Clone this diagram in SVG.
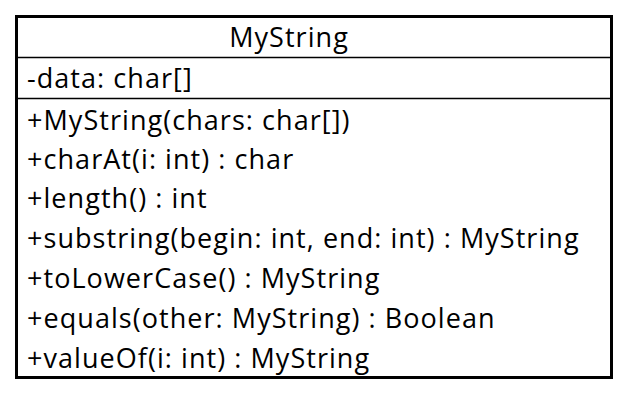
<svg xmlns="http://www.w3.org/2000/svg" width="641" height="403" viewBox="0 0 641 403">
<style>
text{font-family:"Open Sans","Liberation Sans",sans-serif;font-size:27px;letter-spacing:1.05px;fill:#000}
.in{stroke:#000;stroke-width:1.5}
</style>
<rect width="641" height="403" fill="#fff"/>
<g id="class-MyString">
<rect x="16.5" y="16.5" width="595" height="361" fill="#fff" stroke="#000" stroke-width="3"/>
<line class="in" x1="16" y1="57.5" x2="612" y2="57.5"/>
<line class="in" x1="16" y1="98.5" x2="612" y2="98.5"/>
<text x="289" y="47" text-anchor="middle">MyString</text>
<text x="27" y="88">-data: char[]</text>
<text x="27" y="130">+MyString(chars: char[])</text>
<text x="27" y="169">+charAt(i: int) : char</text>
<text x="27" y="208">+length() : int</text>
<text x="27" y="248">+substring(begin: int, end: int) : MyString</text>
<text x="27" y="288">+toLowerCase() : MyString</text>
<text x="27" y="328">+equals(other: MyString) : Boolean</text>
<text x="27" y="368">+valueOf(i: int) : MyString</text>
</g>
<g id="connectors"/>
</svg>
